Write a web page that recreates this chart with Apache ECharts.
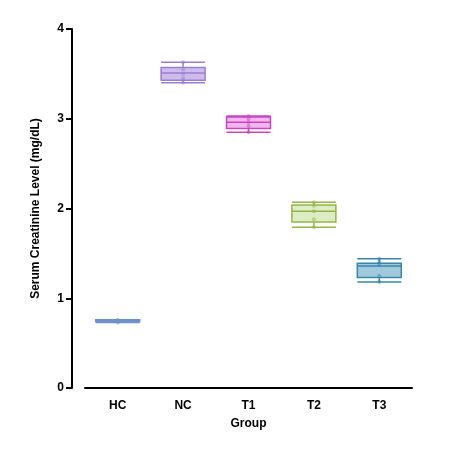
<!DOCTYPE html>
<html><head><meta charset="utf-8">
<script src="https://cdn.jsdelivr.net/npm/echarts@6/dist/echarts.min.js"></script>
<style>html,body{margin:0;background:#fff}#c{width:474px;height:474px}</style>
</head><body><div id="c"></div>
<script>
const groups = ['HC', 'NC', 'T1', 'T2', 'T3'];
// [min, Q1, median, Q3, max]
const boxes = [
  [0.73, 0.74, 0.75, 0.76, 0.76],
  [3.40, 3.43, 3.51, 3.57, 3.63],
  [2.85, 2.89, 2.96, 3.02, 3.03],
  [1.79, 1.85, 1.97, 2.04, 2.07],
  [1.18, 1.23, 1.36, 1.39, 1.44]
];
const points = [
  [0.73, 0.74, 0.75, 0.76],
  [3.40, 3.45, 3.50, 3.55, 3.63],
  [2.85, 2.92, 2.96, 3.00, 3.03],
  [1.79, 1.88, 1.97, 2.03, 2.07],
  [1.18, 1.25, 1.37, 1.40, 1.44]
];
const lineColors = ['#6f8fcf', '#9a7fd0', '#c548bf', '#93b64a', '#3a86a8'];
const fillColors = ['#b9c9ec', '#cdbcec', '#f2b6ee', '#deecc3', '#9fc9dd'];

const chart = echarts.init(document.getElementById('c'));
const scatterData = [];
points.forEach((arr, i) => arr.forEach(v => scatterData.push({
  value: [i, v], itemStyle: { color: lineColors[i], opacity: 0.5 }
})));

chart.setOption({
  animation: false,
  grid: { left: 85, right: 62, top: 29, bottom: 86 },
  xAxis: {
    type: 'category', data: groups,
    name: 'Group', nameLocation: 'middle', nameGap: 30,
    nameTextStyle: { fontWeight: 'bold', fontSize: 12, color: '#000' },
    axisLine: { lineStyle: { color: '#000', width: 2 } },
    axisTick: { show: false },
    axisLabel: { fontWeight: 'bold', fontSize: 12, color: '#000', margin: 12 }
  },
  yAxis: {
    type: 'value', min: 0, max: 4, interval: 1, offset: 13,
    name: 'Serum Creatinine Level (mg/dL)', nameLocation: 'middle', nameGap: 30,
    nameTextStyle: { fontWeight: 'bold', fontSize: 12, color: '#000' },
    axisLine: { show: true, lineStyle: { color: '#000', width: 2 } },
    axisTick: { show: true, length: 6, lineStyle: { width: 2 } },
    axisLabel: { fontWeight: 'bold', fontSize: 12, color: '#000' },
    splitLine: { show: false }
  },
  series: [{
    type: 'boxplot', boxWidth: [44, 44],
    data: boxes.map((b, i) => ({
      value: b,
      itemStyle: { color: fillColors[i], borderColor: lineColors[i], borderWidth: 1.5 }
    }))
  }, {
    type: 'scatter', symbolSize: 4, data: scatterData
  }]
});
</script></body></html>
